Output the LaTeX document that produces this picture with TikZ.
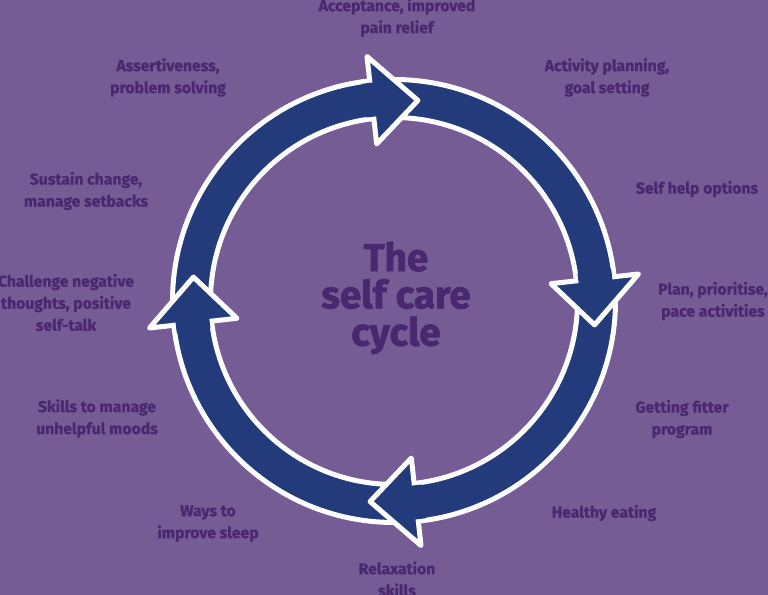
\documentclass[tikz,border=0pt]{standalone}
\usepackage{fontspec}
\setmainfont{Fira Sans}[BoldFeatures={FakeBold=0.9}]
\newfontfamily\titlefont{Fira Sans}[BoldFeatures={FakeBold=1.8}]
\usetikzlibrary{calc}
\definecolor{bgpurple}{RGB}{118,92,148}
\definecolor{txtpurple}{RGB}{74,40,112}
\definecolor{ringblue}{RGB}{35,59,122}
\tikzset{
  lbl/.style={font=\bfseries\fontsize{11.8}{16.5}\selectfont, text=txtpurple, align=center, inner sep=0pt},
  titletext/.style={font=\titlefont\bfseries\fontsize{29}{28}\selectfont, text=txtpurple, align=center, inner sep=0pt},
  ringline/.style={draw=white, line width=3.75pt},
  headshape/.style={fill=ringblue, draw=white, line width=3.75pt, line join=round},
}
\begin{document}
\begin{tikzpicture}[x=0.75pt,y=0.75pt]
\useasboundingbox (0,0) rectangle (768,595);
\fill[bgpurple] (0,0) rectangle (768,595);
\coordinate (C) at (394,294);
% ring
\fill[ringblue, even odd rule] (C) circle[radius=221.5] (C) circle[radius=183.5];
\path[ringline] (C) circle[radius=221.5];
\path[ringline] (C) circle[radius=183.5];
% arrowheads
\foreach \a/\n in {90/t,0/r,-90/b,180/l} {
  \pgfmathsetmacro\bk{\a+6.3}
  \pgfmathsetmacro\tp{\a-6.8}
  \pgfmathsetmacro\pa{\bk-2.2}
  \pgfmathsetmacro\pb{\bk+2.2}
  \coordinate (tip\n) at ($(C)+(\tp:202)$);
  \coordinate (bo\n) at ($(C)+(\bk:246)$);
  \coordinate (bi\n) at ($(C)+(\bk:158)$);
  \path[headshape] (bo\n) -- (tip\n) -- (bi\n) -- cycle;
  \fill[ringblue] ($(C)+(\pa:185.5)$) arc[start angle=\pa, end angle=\pb, radius=185.5]
     -- ($(C)+(\pb:219.5)$) arc[start angle=\pb, end angle=\pa, radius=219.5] -- cycle;
}
% title
\node[titletext] (title) at (396,297) {The\\self care\\cycle};
% labels
\node[lbl] (l1) at (397,577.5) {Acceptance, improved\\pain relief};
\node[lbl] (l2) at (607,517.5) {Activity planning,\\goal setting};
\node[lbl] (l3) at (697,406) {Self help options};
\node[lbl] (l4) at (713,294) {Plan, prioritise,\\pace activities};
\node[lbl] (l5) at (682,176) {Getting fitter\\program};
\node[lbl] (l6) at (604,82) {Healthy eating};
\node[lbl] (l7) at (397,16) {Relaxation\\skills};
\node[lbl] (l8) at (208,71.5) {Ways to\\improve sleep};
\node[lbl] (l9) at (97,176.5) {Skills to manage\\unhelpful moods};
\node[lbl] (l10) at (66,292.5) {Challenge negative\\thoughts, positive\\self-talk};
\node[lbl] (l11) at (86,404) {Sustain change,\\manage setbacks};
\node[lbl] (l12) at (168,517.5) {Assertiveness,\\problem solving};
\end{tikzpicture}
\end{document}
